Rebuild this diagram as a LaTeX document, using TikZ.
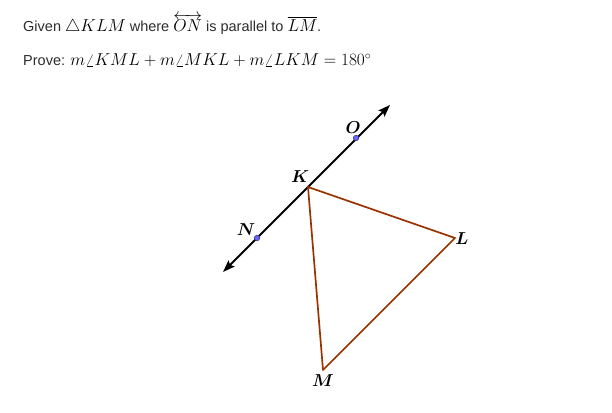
\documentclass[tikz,border=0pt]{standalone}
\usepackage{amsmath,bm}
\usepackage[no-math]{fontspec}
\setmainfont{Liberation Sans}
\usetikzlibrary{arrows.meta}
\definecolor{tri}{RGB}{153,51,0}
\definecolor{ptfill}{RGB}{102,102,255}
\definecolor{ptdraw}{RGB}{40,40,120}
\definecolor{txt}{RGB}{45,45,45}
\newcommand{\mth}[1]{{\fontsize{17.7}{20}\selectfont\color{black}$#1$}}
\tikzset{
  ptstyle/.style={circle,fill=ptfill,draw=ptdraw,line width=0.5pt,inner sep=0pt,minimum size=5.5pt},
  lbl/.style={inner sep=0pt,font=\fontsize{17}{19}\selectfont},
  linestyle/.style={line width=1.8pt,{Stealth[length=12pt,width=8.5pt,inset=2pt]}-{Stealth[length=12pt,width=8.5pt,inset=2pt]}},
  tristyle/.style={draw=tri,line width=1.7pt,line join=round},
  textline/.style={anchor=base west,inner sep=0pt,text=txt,font=\fontsize{14.5}{17}\selectfont}
}
\begin{document}
\begin{tikzpicture}[x=1pt,y=-1pt]
\useasboundingbox (0,0) rectangle (612,412);
% text
\node[textline] (given) at (23,32) {Given \mth{\triangle KLM} where \mth{\overleftrightarrow{ON}} is parallel to \mth{\overline{LM}}.};
\node[textline] (prove) at (23,66) {Prove: \mth{m\angle KML+m\angle MKL+m\angle LKM=180^\circ}};
% points
\coordinate (K) at (308,187);
\coordinate (L) at (455,238);
\coordinate (M) at (323,370);
\coordinate (tipA) at (223,272);
\coordinate (tipB) at (390,105);
% line ON
\draw[linestyle] (tipA) -- (tipB);
% triangle
\draw[tristyle] (K) -- (L) -- (M) -- cycle;
\node[ptstyle] (N) at (257,238) {};
\node[ptstyle] (O) at (356,138) {};
% labels
\node[lbl] (lO) at (353,128) {$\bm{O}$};
\node[lbl] (lK) at (300,177) {$\bm{K}$};
\node[lbl] (lN) at (246,230) {$\bm{N}$};
\node[lbl] (lL) at (462,239) {$\bm{L}$};
\node[lbl] (lM) at (323,381) {$\bm{M}$};
\end{tikzpicture}
\end{document}
